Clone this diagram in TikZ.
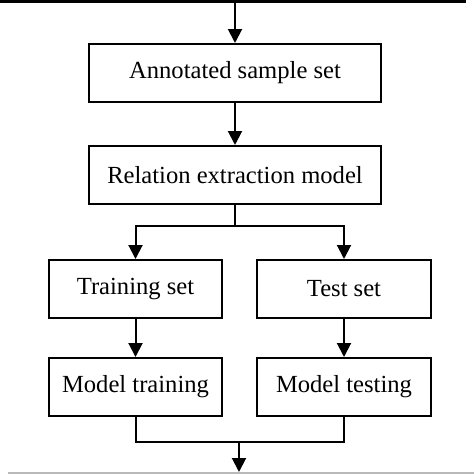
\documentclass[tikz,border=0pt]{standalone}
\usepackage{fontspec}
\setmainfont{Liberation Serif}
\usetikzlibrary{arrows.meta}
\tikzset{
    blockbox/.style={draw, line width=2pt, minimum height=58pt, inner sep=0pt, font=\fontsize{24.6}{29}\selectfont},
    arr/.style={line width=2pt, -{Triangle[length=14pt,width=14pt]}},
    conn/.style={line width=2pt}
}
\begin{document}
\begin{tikzpicture}[x=1pt, y=-1pt]
    \useasboundingbox (0,0) rectangle (474,474);

    % cut-off edges above and below
    \fill[black] (0,0) rectangle (466,3);
    \fill[gray!55] (8,472) rectangle (474,474);

    \node[blockbox, minimum width=292pt] (ann) at (235,73) {Annotated sample set};
    \node[blockbox, minimum width=292pt] (rel) at (235,175) {Relation extraction model};

    \node[blockbox, minimum width=173pt] (train) at (135.5,289) {Training set};
    \node[blockbox, minimum width=174pt] (test) at (344,289) {Test set};
    \node[blockbox, minimum width=173pt] (mtrain) at (135.5,387) {Model training};
    \node[blockbox, minimum width=174pt] (mtest) at (344,387) {Model testing};

    \coordinate (in) at (235,3);
    \coordinate (split) at (235,226);
    \coordinate (join) at (239,442);
    \coordinate (out) at (239,472);

    \draw[arr] (in) -- (ann);
    \draw[arr] (ann) -- (rel);

    \draw[conn] (rel) -- (split);
    \draw[arr] (split) -| (train);
    \draw[arr] (split) -| (test);

    \draw[arr] (train) -- (mtrain);
    \draw[arr] (test) -- (mtest);

    \draw[conn] (mtrain) |- (join);
    \draw[conn] (mtest) |- (join);
    \draw[arr] (join) -- (out);
\end{tikzpicture}
\end{document}
